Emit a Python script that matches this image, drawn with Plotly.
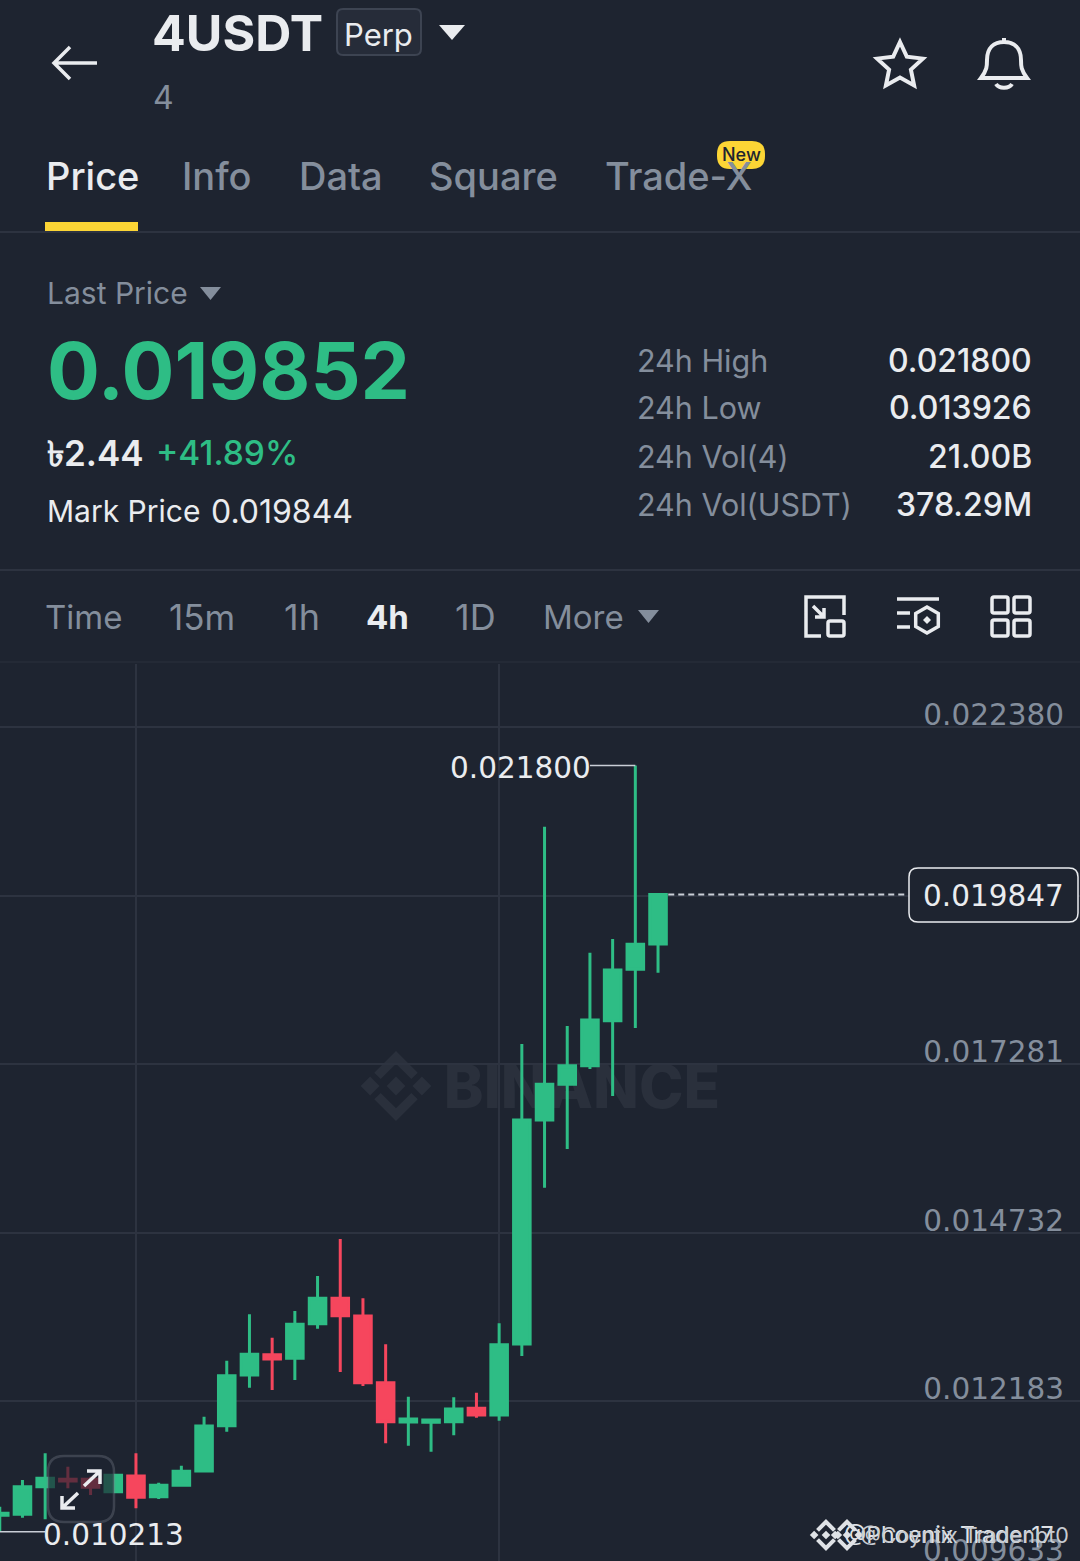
import math

import plotly.graph_objects as go

W, H = 1080, 1561
BG = "#1e2430"
GREEN = "#2ebd85"
RED = "#f6465d"
WHITE = "#eaecef"
GREY = "#848e9c"
LINE = "#2d3340"
FONT = "Inter"
NUM_FONT = "DejaVu Sans"  # evenly spaced digits, like the app's price scale

# 4h candles, oldest first
candle_idx = list(range(-6, 24))
opens = [0.010461, 0.010477, 0.010895, 0.011006, 0.011006, 0.010819, 0.011056, 0.010744, 0.010915, 0.011132,
         0.011817, 0.012583, 0.012891, 0.012835, 0.013359, 0.013742, 0.013475, 0.012467, 0.011873, 0.011867,
         0.011878, 0.012079, 0.011978, 0.013052, 0.016439, 0.016978, 0.017260, 0.017940, 0.018717, 0.019100]
closes = [0.010492, 0.010895, 0.011021, 0.010981, 0.010885, 0.011066, 0.010734, 0.010915, 0.011127, 0.011812,
          0.012573, 0.012896, 0.012825, 0.013349, 0.013742, 0.013480, 0.012467, 0.011878, 0.011918, 0.011903,
          0.012069, 0.011978, 0.013042, 0.016439, 0.016978, 0.017260, 0.017951, 0.018707, 0.019095, 0.019847]
highs = [0.010592, 0.010996, 0.011399, 0.011197, 0.011046, 0.011066, 0.011399, 0.010955, 0.011212, 0.011953,
         0.012800, 0.013500, 0.013148, 0.013551, 0.014080, 0.014639, 0.013742, 0.013047, 0.012256, 0.011903,
         0.012246, 0.012316, 0.013364, 0.017588, 0.020873, 0.017860, 0.018968, 0.019175, 0.021800, 0.019871]
lows = [0.010213, 0.010426, 0.010401, 0.010870, 0.010769, 0.010819, 0.010567, 0.010708, 0.010895, 0.011112,
        0.011726, 0.012392, 0.012356, 0.012508, 0.013284, 0.012629, 0.012417, 0.011550, 0.011515, 0.011424,
        0.011671, 0.011938, 0.011893, 0.012871, 0.015415, 0.016000, 0.017210, 0.016802, 0.017830, 0.018666]

y_ticks = [0.022380, 0.019830, 0.017281, 0.014732, 0.012183]
y_tick_labels = ["0.022380", "0.019830", "0.017281", "0.014732", "0.012183"]
x_grid = [0, 16]

stat_labels = ["24h High", "24h Low", "24h Vol(4)", "24h Vol(USDT)"]
stat_values = ["0.021800", "0.013926", "21.00B", "378.29M"]
tabs = ["Price", "Info", "Data", "Square", "Trade-X"]
intervals = ["Time", "15m", "1h", "4h", "1D", "More"]

last_price = 0.019847


def px(x):
    return x / W


def py(y):
    return 1 - y / H


def path(d):
    # svg-like path in page pixels -> paper coords
    out, is_x = [], True
    for tok in d.split():
        if tok.isalpha():
            out.append(tok)
            is_x = True
        else:
            out.append(f"{px(float(tok)):.5f}" if is_x else f"{py(float(tok)):.5f}")
            is_x = not is_x
    return " ".join(out)


def rrect(x0, y0, x1, y1, r):
    return (f"M {x0+r} {y0} L {x1-r} {y0} Q {x1} {y0} {x1} {y0+r} L {x1} {y1-r} Q {x1} {y1} {x1-r} {y1} "
            f"L {x0+r} {y1} Q {x0} {y1} {x0} {y1-r} L {x0} {y0+r} Q {x0} {y0} {x0+r} {y0} Z")


shapes = []
annotations = []


def stroke(d, color=WHITE, width=3.5, fill=None, layer="above"):
    shapes.append(dict(type="path", xref="paper", yref="paper", path=path(d), layer=layer,
                       line=dict(color=color, width=width), fillcolor=fill or "rgba(0,0,0,0)"))


def solid(d, color, layer="above"):
    shapes.append(dict(type="path", xref="paper", yref="paper", path=path(d), layer=layer,
                       line=dict(width=0), fillcolor=color))


def label(x, y, s, size, color=WHITE, weight=400, anchor="left", family=FONT):
    # annotations sit about 2px inside their anchor
    x = x - 2 if anchor == "left" else x + 2 if anchor == "right" else x
    annotations.append(dict(x=px(x), y=py(y), xref="paper", yref="paper", text=s, showarrow=False,
                            xanchor=anchor, yanchor="middle", borderpad=0,
                            font=dict(family=family, size=size, color=color, weight=weight)))


def logo(cx, cy, r, color, layer="above"):
    k = r * 0.27
    solid(f"M {cx} {cy-k} L {cx+k} {cy} L {cx} {cy+k} L {cx-k} {cy} Z", color, layer)
    for dx, dy in [(1, 0), (-1, 0)]:
        c = cx + dx * r * 0.74
        solid(f"M {c} {cy-k} L {c+k} {cy} L {c} {cy+k} L {c-k} {cy} Z", color, layer)
    for s in (-1, 1):
        a, b, c = r * 0.62, r * 0.33, r
        solid(f"M {cx} {cy+s*c} L {cx+a} {cy+s*(c-a)} L {cx+a-b*0.55} {cy+s*(c-a-b*0.55)} L {cx} {cy+s*(c-b*1.1)} "
              f"L {cx-a+b*0.55} {cy+s*(c-a-b*0.55)} L {cx-a} {cy+s*(c-a)} Z", color, layer)


# header
stroke("M 97 63 L 54 63 M 70 47 L 54 63 L 70 79", width=3.5)
label(153, 33, "4USDT", 50, WHITE, 700)
stroke(rrect(337, 9, 421, 55, 6), color="#3d4452", width=2, fill="#262c39")
label(345, 34, "Perp", 31, WHITE)
solid("M 439 25 L 465 25 L 452 40 Z", WHITE)
label(154, 97, "4", 32, GREY)

star = []
for i in range(10):
    r = 24 if i % 2 == 0 else 11.5
    a = -math.pi / 2 + i * math.pi / 5
    star.append(f"{'M' if i == 0 else 'L'} {900 + r*math.cos(a):.1f} {66 + r*math.sin(a):.1f}")
stroke(" ".join(star) + " Z", width=4)
stroke("M 981 78 L 1027 78 C 1021 70 1021 66 1021 60 C 1021 48 1014 42 1004 42 C 994 42 987 48 987 60 "
       "C 987 66 987 70 981 78 Z M 996 84 C 999 89 1009 89 1012 84 M 1004 38 L 1004 42", width=4)

# tabs
tab_x = [47, 183, 300, 430, 606]
for name, x in zip(tabs, tab_x):
    label(x, 176, name, 38, WHITE if name == "Price" else GREY, 500)
solid("M 45 222 L 138 222 L 138 231 L 45 231 Z", "#fcd535")
solid(rrect(717, 141, 765, 169, 13), "#fcd535")
label(741, 155, "New", 18, "#1e2430", 500, "center")
shapes.append(dict(type="line", xref="paper", yref="paper", x0=0, x1=1, y0=py(232), y1=py(232),
                   line=dict(color=LINE, width=2)))

# price block
label(48, 293, "Last Price", 30, GREY)
solid("M 200 287 L 221 287 L 210.5 300 Z", GREY)
label(48, 370, "0.019852", 78.5, GREEN, 700)
label(48, 453, "৳2.44", 35, WHITE, 600)
label(157, 453, "+41.89%", 33.5, GREEN, 500)
label(48, 511, "Mark Price", 30, WHITE)
label(212, 511, "0.019844", 32, WHITE)
for i, (a, b) in enumerate(zip(stat_labels, stat_values)):
    label(638, 360 + 48 * i, a, 30.5, GREY)
    label(1031, 360 + 48 * i, b, 32, WHITE, 500, "right")
shapes.append(dict(type="line", xref="paper", yref="paper", x0=0, x1=1, y0=py(570), y1=py(570),
                   line=dict(color=LINE, width=2)))

# interval row
int_x = [46, 170, 285, 367, 456, 544]
int_size = [33, 35, 36, 33, 36, 33]
for name, x, size in zip(intervals, int_x, int_size):
    active = name == "4h"
    label(x, 617, name, size, WHITE if active else GREY, 700 if active else 400)
solid("M 638 610 L 659 610 L 648.5 623 Z", GREY)

stroke("M 821 636 L 806 636 L 806 597 L 844 597 L 844 615 M 813 606 L 824 617 M 824 608 L 824 617 L 815 617")
stroke(rrect(828, 621, 844, 636, 2))
stroke("M 897 599 L 939 599 M 897 613 L 910 613 M 897 627 L 910 627")
hexagon = []
for i in range(6):
    a = -math.pi / 2 + i * math.pi / 3
    hexagon.append(f"{'M' if i == 0 else 'L'} {927 + 13*math.cos(a):.1f} {620 + 13*math.sin(a):.1f}")
stroke(" ".join(hexagon) + " Z")
solid("M 927 616 L 931 620 L 927 624 L 923 620 Z", WHITE)
for x0, x1 in [(992, 1008), (1014, 1030)]:
    for y0, y1 in [(597, 613), (620, 636)]:
        stroke(rrect(x0, y0, x1, y1, 2))
shapes.append(dict(type="line", xref="paper", yref="paper", x0=0, x1=1, y0=py(662), y1=py(662),
                   line=dict(color="#272d39", width=1.5)))

# watermark behind the candles
logo(396, 1086, 35, "#2a303c", "below")
shapes.append(dict(type="rect", xref="paper", yref="paper", layer="below", x0=px(440), x1=px(724), y0=py(1114), y1=py(1054),
                   line=dict(width=0), fillcolor="rgba(0,0,0,0)",
                   label=dict(text="BINANCE", textposition="middle center",
                              font=dict(family=FONT, size=60, color="#2a303c", weight=800))))

# high / low / last price markers, placed from the data
hi, lo = max(highs), min(lows)
hi_i, lo_i = candle_idx[highs.index(hi)], candle_idx[lows.index(lo)]
shapes.append(dict(type="line", xref="x", yref="y", x0=hi_i, x1=hi_i - 2, y0=hi, y1=hi, line=dict(color="#c9ced6", width=1.5)))
shapes.append(dict(type="line", xref="x", yref="y", x0=lo_i, x1=lo_i + 2, y0=lo, y1=lo, line=dict(color="#c9ced6", width=1.5)))
annotations.append(dict(x=hi_i - 2, y=hi, xref="x", yref="y", text=f"{hi:.6f}", showarrow=False, xanchor="right",
                        yanchor="middle", xshift=3, yshift=-3, font=dict(family=NUM_FONT, size=29.5, color=WHITE)))
annotations.append(dict(x=lo_i + 2, y=lo, xref="x", yref="y", text=f"{lo:.6f}", showarrow=False, xanchor="left",
                        yanchor="middle", xshift=-4, yshift=-3, font=dict(family=NUM_FONT, size=29.5, color=WHITE)))
shapes.append(dict(type="line", xref="x", yref="y", x0=candle_idx[-1] + 0.45, x1=33.85, y0=last_price, y1=last_price,
                   line=dict(color="#c9ced6", width=2, dash="6px,4px")))
solid(rrect(909, 868, 1078, 922, 9), BG)
stroke(rrect(909, 868, 1078, 922, 9), color=WHITE, width=1.5)
label(993.5, 896, f"{last_price:.6f}", 29.5, WHITE, 400, "center", NUM_FONT)

# expand button over the oldest candles
stroke(rrect(48, 1456, 114, 1522, 16), color="rgba(120,126,138,0.35)", width=2.5, fill="rgba(30,36,48,0.68)")
stroke("M 84 1486 L 100 1471 M 87 1471 L 100 1471 L 100 1484 M 78 1493 L 62 1508 M 62 1496 L 62 1508 L 75 1508", width=3.5)

# cut-off bottom tick and the overlapping repost credits
label(1063, 1551, "0.009633", 29.5, GREY, 400, "right", NUM_FONT)
logo(826, 1535, 16, "#dfe2e6")
logo(847, 1535, 16, "#dfe2e6")
label(845, 1535, "@Phoenix Trader17", 23, "#dfe2e6")
label(861, 1535, "@Coyntix Tradenpt0", 21.5, "#c8ccd2")

fig = go.Figure(
    go.Candlestick(
        x=candle_idx,
        open=opens,
        high=highs,
        low=lows,
        close=closes,
        whiskerwidth=0,
        increasing=dict(line=dict(color=GREEN, width=3), fillcolor=GREEN),
        decreasing=dict(line=dict(color=RED, width=3), fillcolor=RED),
        showlegend=False,
        hoverinfo="skip",
    )
)

fig.update_layout(
    width=W,
    height=H,
    margin=dict(l=0, r=0, t=0, b=0),
    paper_bgcolor=BG,
    plot_bgcolor=BG,
    boxgap=0.27,
    boxgroupgap=0,
    shapes=shapes,
    annotations=annotations,
    showlegend=False,
    xaxis=dict(
        range=[-5.99, 41.59],
        tickvals=x_grid,
        showticklabels=False,
        gridcolor=LINE,
        gridwidth=1.5,
        zeroline=False,
        rangeslider=dict(visible=False),
    ),
    yaxis=dict(
        domain=[0, 1 - 664 / H],
        range=[0.009771, 0.023333],
        side="right",
        tickvals=y_ticks,
        ticktext=y_tick_labels,
        ticklabelposition="inside top",
        ticklabelstandoff=13,
        ticklabelshift=8,
        ticks="",
        tickfont=dict(family=NUM_FONT, size=29.5, color=GREY),
        gridcolor=LINE,
        gridwidth=1.5,
        zeroline=False,
    ),
)

fig.write_html("out.html", config={"displayModeBar": False},
               post_script="document.body.style.margin='0';document.body.style.overflow='hidden';")
